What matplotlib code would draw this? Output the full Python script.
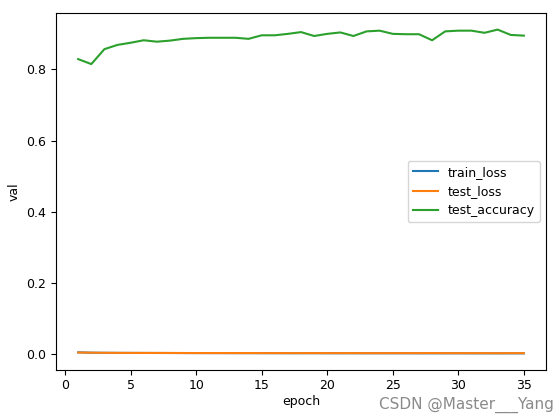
import matplotlib
matplotlib.use('Agg')
import matplotlib.pyplot as plt

epoch = list(range(1, 36))
train_loss = [0.0045, 0.0035, 0.0032, 0.0030, 0.0029, 0.0028, 0.0027, 0.0026, 0.0025, 0.0024,
              0.0023, 0.0023, 0.0022, 0.0022, 0.0021, 0.0021, 0.0020, 0.0020, 0.0020, 0.0019,
              0.0019, 0.0019, 0.0018, 0.0018, 0.0018, 0.0018, 0.0017, 0.0017, 0.0017, 0.0017,
              0.0016, 0.0016, 0.0016, 0.0016, 0.0016]
test_loss = [0.0040, 0.0036, 0.0032, 0.0030, 0.0029, 0.0028, 0.0028, 0.0027, 0.0026, 0.0025,
             0.0025, 0.0025, 0.0025, 0.0025, 0.0024, 0.0024, 0.0023, 0.0023, 0.0024, 0.0023,
             0.0023, 0.0024, 0.0022, 0.0022, 0.0023, 0.0023, 0.0023, 0.0025, 0.0022, 0.0022,
             0.0022, 0.0022, 0.0021, 0.0022, 0.0022]
test_accuracy = [0.829, 0.815, 0.857, 0.869, 0.875, 0.882, 0.878, 0.881, 0.886, 0.888,
                 0.889, 0.889, 0.889, 0.886, 0.896, 0.896, 0.900, 0.905, 0.894, 0.900,
                 0.904, 0.894, 0.907, 0.909, 0.900, 0.899, 0.899, 0.882, 0.907, 0.909,
                 0.909, 0.903, 0.912, 0.897, 0.895]

fig = plt.figure(figsize=(5.59, 4.19), dpi=100)
plt.plot(epoch, train_loss, label='train_loss')
plt.plot(epoch, test_loss, label='test_loss')
plt.plot(epoch, test_accuracy, label='test_accuracy')
plt.xlabel('epoch', fontsize=9, labelpad=2)
plt.ylabel('val', fontsize=9)
plt.xticks(fontsize=9)
plt.yticks(fontsize=9)
plt.legend(loc='center right', fontsize=9)
plt.subplots_adjust(left=0.1, right=0.977, top=0.968, bottom=0.118)
fig.text(0.99, 0.015, 'CSDN @Master___Yang', ha='right', va='bottom', fontsize=11, color='#8a8a8a')
plt.savefig('out.png')
